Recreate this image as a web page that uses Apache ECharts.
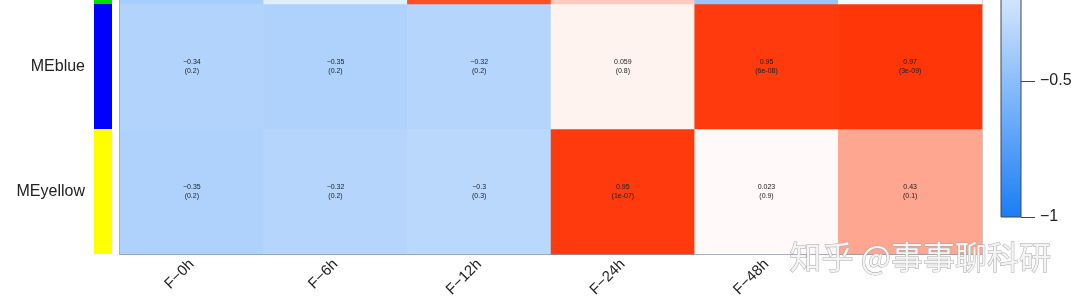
<!DOCTYPE html>
<html><head><meta charset="utf-8">
<script src="https://cdn.jsdelivr.net/npm/echarts@6/dist/echarts.min.js"></script>
<style>html,body{margin:0;padding:0;background:#fff;overflow:hidden;width:1080px;height:302px;position:relative}
#c{position:absolute;left:0;top:-335px;width:1080px;height:637px}</style>
</head><body><div id="c"></div>
<script>
const columns = ['F-0h','F-6h','F-12h','F-24h','F-48h','F-72h'];
const modules = ['MEyellow','MEblue','MEgreen']; // bottom to top
const moduleColors = ['#ffff00','#0000ff','#00e000'];
const corrYellow = [-0.35,-0.32,-0.3,0.95,0.023,0.43];
const pYellow = ['0.2','0.2','0.3','1e-07','0.9','0.1'];
const corrBlue = [-0.34,-0.35,-0.32,0.059,0.95,0.97];
const pBlue = ['0.2','0.2','0.2','0.8','6e-08','3e-09'];
const corrGreen = [-0.38,-0.13,0.85,0.25,-0.45,-0.05];
const pGreen = ['','','','','',''];
const colorbarTicks = [-1,-0.5,0,0.5,1];
const scaleColors = ['#1a7df5','#ffffff','#ff3000'];

const corr = [corrYellow, corrBlue, corrGreen];
const pv = [pYellow, pBlue, pGreen];
const heatData = [];
corr.forEach((row, r) => row.forEach((v, c) => heatData.push({value:[c, r, v], p: pv[r][c]})));
const fmtNum = v => String(v).replace('-', '\u2212');

const OFF = 335; // chart canvas starts 335px above the page
const chart = echarts.init(document.getElementById('c'));
const FONT = '"Liberation Sans", Arial, sans-serif';
chart.setOption({
  animation:false,
  grid:[
    {left:120, width:862, top:OFF-121, height:375, show:true, borderColor:'#556', borderWidth:0.6},
    {left:94, width:18, top:OFF-121, height:375},
    {left:1001, width:20, top:0, height:552}
  ],
  xAxis:[
    {type:'category', gridIndex:0, data:columns, position:'bottom',
     axisLine:{show:true, lineStyle:{color:'#8a99a8', width:1.2}}, axisTick:{show:false},
     axisLabel:{rotate:45, fontSize:15, fontFamily:FONT, color:'#222', margin:8, interval:0,
       formatter:(v,i)=> i===5 ? '' : v.replace('-','\u2212')}},
    {type:'category', gridIndex:1, data:['m'], show:false},
    {type:'category', gridIndex:2, data:['c'], show:false}
  ],
  yAxis:[
    {type:'category', gridIndex:0, data:modules, axisLine:{show:true, lineStyle:{color:'#8a99a8', width:1.5}},
     axisTick:{show:false}, axisLabel:{show:false}},
    {type:'category', gridIndex:1, data:modules, axisLine:{show:false}, axisTick:{show:false},
     axisLabel:{fontSize:16, fontFamily:FONT, color:'#222', margin:9}},
    {type:'value', gridIndex:2, min:-1, max:1, interval:0.5, position:'right',
     axisLine:{show:false}, splitLine:{show:false},
     axisTick:{show:true, length:14, lineStyle:{color:'#444'}},
     axisLabel:{fontSize:16, fontFamily:FONT, color:'#222', margin:19,
       formatter:v=>fmtNum(v)}}
  ],
  visualMap:{show:false, type:'continuous', min:-1, max:1, seriesIndex:0, inRange:{color:scaleColors}},
  series:[
    {type:'heatmap', xAxisIndex:0, yAxisIndex:0, data:heatData, emphasis:{disabled:true},
     label:{show:true, fontSize:7, lineHeight:9, fontFamily:FONT, color:'#222',
       formatter:p=> p.data.p ? fmtNum(p.data.value[2]) + '\n(' + p.data.p + ')' : ''}},
    {type:'custom', xAxisIndex:1, yAxisIndex:1, silent:true,
     data:modules.map((m,i)=>[0, i, moduleColors[i]]),
     renderItem:(params, api)=>{
       const c = api.coord([0, api.value(1)]);
       const s = api.size([1,1]);
       return {type:'rect', shape:{x:c[0]-s[0]/2, y:c[1]-s[1]/2, width:s[0], height:s[1]},
               style:{fill:moduleColors[params.dataIndex]}};
     }},
    {type:'custom', xAxisIndex:2, yAxisIndex:2, silent:true, data:[[0,-1,1]],
     renderItem:(params, api)=>{
       const a = api.coord([0, api.value(1)]);
       const b = api.coord([0, api.value(2)]);
       const s = api.size([1,0]);
       return {type:'rect', shape:{x:a[0]-s[0]/2, y:b[1], width:s[0], height:a[1]-b[1]},
         style:{stroke:'#445', lineWidth:1,
           fill:new echarts.graphic.LinearGradient(0,1,0,0,
             scaleColors.map((col,i)=>({offset:i/(scaleColors.length-1), color:col})))}};
     }}
  ],
  graphic:[{type:'text', left:789, top:OFF+240, z:100,
    style:{text:'知乎 @事事聊科研', font:'32px "Noto Sans CJK SC"', fill:'#f4f4f4',
      stroke:'#a8a8a8', lineWidth:1}}]
});
</script></body></html>
